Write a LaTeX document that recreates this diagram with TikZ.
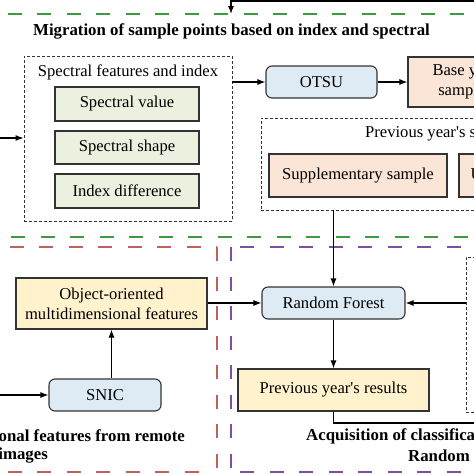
\documentclass[tikz,border=0pt]{standalone}
\usepackage{fontspec}
\setmainfont{Liberation Serif}
\usetikzlibrary{arrows.meta,calc}
\newcommand\fsz{\fontsize{16.6}{20}\selectfont}
\newcommand\fszb{\fontsize{16.8}{20}\selectfont\bfseries}
\newcommand\apo{\textquotesingle}
\definecolor{gline}{HTML}{3B9C3B}
\definecolor{rline}{HTML}{C0605C}
\definecolor{pline}{HTML}{7F4FA5}
\definecolor{gfill}{HTML}{EBF1DE}
\definecolor{pfill}{HTML}{FBE5D6}
\definecolor{bfill}{HTML}{DEEBF5}
\definecolor{yfill}{HTML}{FFF2CC}
\tikzset{
  box/.style={draw=black!80, line width=1.1pt, inner sep=0pt, align=center, font=\fsz},
  greenbox/.style={box, fill=gfill},
  peachbox/.style={box, fill=pfill},
  bluebox/.style={box, fill=bfill, rounded corners=6pt},
  yellowbox/.style={box, fill=yfill},
  thindash/.style={draw=black!80, line width=0.9pt, dash pattern=on 3pt off 2pt, inner sep=0pt},
  label/.style={inner sep=0pt, font=\fsz},
  boldlabel/.style={inner sep=0pt, font=\fszb},
  gdash/.style={draw=gline, line width=2.5pt, dash pattern=on 14pt off 15.5pt},
  rdash/.style={draw=rline, line width=2.3pt, dash pattern=on 14pt off 15.5pt},
  pdash/.style={draw=pline, line width=2.3pt, dash pattern=on 14pt off 15.5pt},
  arr/.style={draw=black, line width=1.1pt, -{Latex[length=8pt,width=6pt]}},
  plain/.style={draw=black, line width=1.1pt}
}
\begin{document}
\begin{tikzpicture}[x=1pt,y=-1pt]
\clip (0,0) rectangle (474,474);
\fill[white] (0,0) rectangle (474,474);

% coloured dashed frames
\draw[gdash] (-22,14) -- (500,14);
\draw[gdash] (-18.5,237) -- (500,237);
\draw[rdash] (-20,247) -- (217,247);
\draw[rdash] (217,247) -- (217,472);
\draw[rdash] (-22,472) -- (207,472);
\draw[pdash] (231,247) -- (231,472);
\draw[pdash] (240,247) -- (500,247);
\draw[pdash] (240,472) -- (500,472);

% title
\node[boldlabel] (title) at (231.5,31) {Migration of sample points based on index and spectral};

% spectral features group
\node[thindash, minimum width=208pt, minimum height=165pt] (spec) at (128,138.5) {};
\node[label] (spectitle) at (128,72) {Spectral features and index};
\node[greenbox, minimum width=144pt, minimum height=34pt] (sv) at (127,104) {Spectral value};
\node[greenbox, minimum width=144pt, minimum height=33pt] (ss) at (127,147.5) {Spectral shape};
\node[greenbox, minimum width=144pt, minimum height=34pt] (idd) at (127,191) {Index difference};

% OTSU and base samples
\node[bluebox, minimum width=111pt, minimum height=32pt] (otsu) at (321.5,82) {OTSU};
\node[peachbox, minimum width=114pt, minimum height=50pt] (base) at (465,82) {Base year\\samples};

% previous year's samples group
\node[thindash, minimum width=370pt, minimum height=92pt] (prev) at (446,164) {};
\node[label, anchor=west] (prevtitle) at (365,134) {Previous year\apo s samples};
\node[peachbox, minimum width=178pt, minimum height=43pt] (supp) at (358,175.5) {Supplementary sample};
\node[peachbox, minimum width=150pt, minimum height=43pt] (unch) at (534,175.5) {Unchanged sample};

% lower part
\node[bluebox, minimum width=143pt, minimum height=32pt] (rf) at (333.5,303) {Random Forest};
\node[yellowbox, minimum width=191pt, minimum height=51pt] (obj) at (111.5,303.5) {Object-oriented\\multidimensional features};
\node[bluebox, minimum width=112pt, minimum height=32pt] (snic) at (105,395) {SNIC};
\node[yellowbox, minimum width=191pt, minimum height=42pt] (pres) at (333.5,390) {Previous year\apo s results};
\node[thindash, minimum width=120pt, minimum height=155pt] (rbox) at (526,334.5) {};

% section captions
\node[boldlabel, anchor=east] (capl1) at (185,436) {Extraction of multidimensional features from remote};
\node[boldlabel, anchor=east] (capl2) at (48,456) {sensing images};
\node[boldlabel, anchor=west] (capr1) at (306,436) {Acquisition of classification results based on};
\node[boldlabel, anchor=west] (capr2) at (408,456) {Random Forest};

% free ends
\coordinate (topin) at (490,1);
\coordinate (topend) at (231,14);
\coordinate (specin) at (-5,138);
\coordinate (snicin) at (-5,395);
\coordinate (presout) at (490,423);

% connectors
\draw[arr] (topin) -| (topend);
\draw[arr] (specin) -- (spec.west |- specin);
\draw[arr] (spec.east |- otsu.west) -- (otsu.west);
\draw[arr] (otsu.east) -- (base.west);
\draw[arr] (rf.north |- prev.south) -- (rf.north);
\draw[arr] (obj.east |- rf.west) -- (rf.west);
\draw[arr] (rbox.west |- rf.east) -- (rf.east);
\draw[arr] (rf.south) -- (pres.north);
\draw[plain] (pres.south) |- (presout);
\draw[arr] (snicin) -- (snic.west);
\draw[arr] (obj.south |- snic.north) -- (obj.south);
\end{tikzpicture}
\end{document}
